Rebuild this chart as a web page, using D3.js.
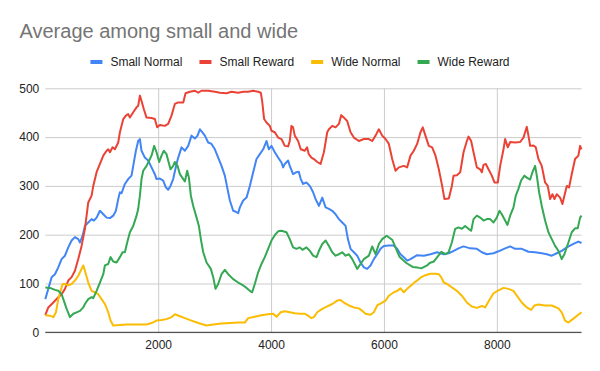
<!DOCTYPE html>
<html>
<head>
<meta charset="utf-8">
<script src="https://cdn.jsdelivr.net/npm/d3@7"></script>
<style>
  body { margin: 0; background: #fff; }
  text { font-family: Arial, "Liberation Sans", sans-serif; }
</style>
</head>
<body>
<div id="chart"></div>
<script>
// series names + colours
var seriesNames = ["Small Normal", "Small Reward", "Wide Normal", "Wide Reward"];
var seriesColors = ["#4285F4", "#EA4335", "#FBBC04", "#34A853"];

var yTicks = [0, 100, 200, 300, 400, 500];
var xTicks = [2000, 4000, 6000, 8000];

// values: [step, average]
var smallNormal = [
  [0,68],[53,89],[112,113],[171,119],[230,133],[289,150],[348,157],[407,174],[466,188],[525,195],
  [584,191],[614,184],[661,198],[702,218],[761,225],[820,232],[861,229],[909,235],[938,242],[968,249],
  [1027,242],[1086,235],[1145,234],[1204,239],[1251,249],[1292,273],[1322,287],[1351,285],[1410,304],
  [1469,314],[1528,321],[1558,341],[1605,372],[1646,392],[1676,396],[1705,372],[1764,358],[1823,352],
  [1882,338],[1941,324],[1971,314],[2030,315],[2089,311],[2136,297],[2177,292],[2218,300],[2266,314],
  [2296,330],[2325,345],[2355,358],[2414,379],[2473,372],[2532,382],[2591,403],[2650,397],[2697,403],
  [2739,416],[2780,410],[2827,403],[2886,389],[2945,386],[3004,375],[3063,358],[3122,341],[3181,321],
  [3228,294],[3270,270],[3329,249],[3376,247],[3417,244],[3447,256],[3506,270],[3565,276],[3624,300],
  [3683,328],[3742,355],[3801,365],[3860,375],[3919,392],[3960,375],[4007,382],[4066,369],[4125,358],
  [4184,348],[4214,338],[4243,345],[4302,352],[4331,341],[4390,324],[4450,328],[4491,329],[4526,314],
  [4568,304],[4627,307],[4686,300],[4745,287],[4789,273],[4848,259],[4907,276],[4966,256],[5025,253],
  [5084,249],[5143,242],[5202,232],[5261,225],[5320,218],[5361,191],[5408,171],[5467,164],[5526,157],
  [5585,143],[5644,133],[5703,130],[5762,137],[5821,150],[5880,160],[5939,171],[5998,177],[6087,178],
  [6175,178],[6234,171],[6293,160],[6352,154],[6411,147],[6470,150],[6529,154],[6588,158],[6706,157],
  [6824,160],[6942,164],[7060,160],[7144,162],[7203,165],[7321,172],[7410,176],[7528,172],[7646,171],
  [7734,164],[7823,160],[7941,162],[8029,166],[8147,172],[8236,176],[8324,171],[8442,171],[8560,165],
  [8678,164],[8796,162],[8885,160],[8973,157],[9062,162],[9150,167],[9239,174],[9357,181],[9445,186],
  [9500,183]
];

var smallReward = [
  [0,35],[53,51],[142,61],[230,72],[289,78],[348,89],[407,106],[466,113],[525,126],[584,150],
  [643,177],[702,212],[761,266],[820,280],[850,300],[909,328],[968,345],[1027,362],[1086,372],[1115,375],
  [1145,369],[1192,379],[1233,375],[1292,389],[1322,410],[1381,437],[1428,444],[1469,447],[1499,440],
  [1558,451],[1617,461],[1646,464],[1676,485],[1705,474],[1746,457],[1794,440],[1882,439],[1941,437],
  [1982,420],[2030,425],[2118,423],[2177,427],[2236,444],[2295,468],[2355,471],[2444,471],[2485,490],
  [2562,493],[2650,495],[2709,491],[2768,495],[2886,495],[3004,493],[3093,491],[3211,490],[3299,493],
  [3417,491],[3506,493],[3594,493],[3683,495],[3771,493],[3818,491],[3842,474],[3877,437],[3919,430],
  [3978,423],[4007,413],[4066,410],[4125,399],[4184,396],[4243,382],[4302,381],[4331,392],[4361,423],
  [4390,420],[4420,403],[4479,392],[4526,375],[4597,372],[4638,379],[4668,365],[4715,358],[4759,355],
  [4818,349],[4877,345],[4936,369],[4995,410],[5025,416],[5084,423],[5143,420],[5202,427],[5243,445],
  [5290,440],[5349,433],[5408,410],[5467,399],[5556,392],[5644,396],[5733,396],[5792,392],[5851,403],
  [5910,416],[5969,403],[6028,396],[6087,386],[6146,355],[6205,331],[6264,338],[6352,341],[6411,338],
  [6470,362],[6529,372],[6588,386],[6647,410],[6688,420],[6735,403],[6795,382],[6854,379],[6913,362],
  [6972,334],[7031,300],[7072,273],[7149,274],[7203,300],[7233,321],[7292,322],[7351,328],[7380,348],
  [7410,369],[7469,392],[7498,401],[7545,392],[7587,369],[7646,338],[7705,334],[7734,328],[7764,343],
  [7805,345],[7852,334],[7911,321],[7958,307],[8017,307],[8059,341],[8118,375],[8147,396],[8194,379],
  [8236,390],[8324,389],[8413,390],[8472,399],[8501,410],[8531,421],[8560,403],[8590,382],[8649,383],
  [8690,379],[8737,355],[8796,341],[8855,307],[8902,300],[8944,273],[8985,283],[9021,273],[9062,283],
  [9121,276],[9162,263],[9197,280],[9239,300],[9280,297],[9327,324],[9386,355],[9445,362],[9475,382],
  [9500,375]
];

var wideNormal = [
  [0,35],[83,34],[142,31],[189,41],[230,68],[271,85],[307,99],[348,99],[407,96],[466,99],
  [525,106],[584,116],[643,130],[673,137],[702,126],[761,102],[820,85],[879,82],[938,78],[997,68],
  [1056,58],[1115,41],[1156,24],[1204,14],[1322,15],[1440,16],[1558,16],[1676,16],[1794,16],[1882,19],
  [1971,24],[2059,25],[2148,27],[2236,31],[2296,37],[2385,33],[2473,29],[2591,24],[2709,19],[2857,14],
  [2975,16],[3122,18],[3270,19],[3417,20],[3535,20],[3594,29],[3712,32],[3830,35],[3948,37],[4037,38],
  [4096,32],[4172,41],[4243,43],[4331,41],[4420,39],[4509,38],[4597,38],[4656,34],[4715,29],[4759,31],
  [4818,41],[4907,48],[4995,53],[5084,58],[5172,65],[5231,66],[5290,61],[5379,55],[5467,51],[5556,49],
  [5615,44],[5674,38],[5762,36],[5821,41],[5880,55],[5969,61],[6028,65],[6087,75],[6175,82],[6234,85],
  [6293,90],[6352,82],[6411,89],[6500,98],[6559,104],[6588,106],[6647,112],[6735,117],[6824,120],
  [6913,120],[6972,119],[7013,113],[7060,102],[7119,99],[7203,92],[7292,85],[7380,75],[7469,61],
  [7557,53],[7646,50],[7734,54],[7793,51],[7852,63],[7941,80],[8029,86],[8118,91],[8206,89],[8295,85],
  [8354,75],[8442,61],[8531,51],[8608,46],[8666,55],[8737,57],[8855,55],[8973,55],[9091,49],[9150,41],
  [9209,24],[9268,20],[9357,28],[9445,36],[9500,41]
];

var wideReward = [
  [0,92],[83,91],[171,87],[230,85],[289,78],[319,68],[378,48],[437,31],[496,38],[555,41],
  [614,44],[673,51],[702,58],[761,68],[820,72],[850,70],[909,85],[968,102],[1027,119],[1056,137],
  [1115,140],[1156,154],[1204,145],[1263,143],[1322,154],[1369,164],[1410,164],[1451,184],[1499,205],
  [1558,218],[1617,239],[1646,253],[1676,280],[1705,314],[1735,331],[1794,341],[1853,355],[1882,362],
  [1929,382],[1971,369],[2018,349],[2059,362],[2100,372],[2148,365],[2177,352],[2218,334],[2266,341],
  [2295,349],[2343,341],[2385,324],[2444,314],[2473,309],[2514,331],[2544,317],[2579,280],[2621,259],
  [2680,235],[2721,218],[2756,191],[2798,164],[2857,143],[2933,130],[2975,113],[3016,89],[3063,99],
  [3122,119],[3181,128],[3240,119],[3329,109],[3417,102],[3506,96],[3565,91],[3624,85],[3665,82],
  [3712,99],[3771,123],[3830,140],[3889,154],[3948,171],[4007,188],[4066,199],[4125,207],[4184,208],
  [4273,205],[4331,191],[4390,174],[4450,171],[4509,174],[4556,169],[4627,174],[4686,167],[4745,157],
  [4806,154],[4848,167],[4907,181],[4966,188],[5025,177],[5084,164],[5143,157],[5202,160],[5261,164],
  [5320,157],[5379,160],[5438,150],[5497,137],[5526,130],[5585,140],[5644,150],[5733,157],[5792,176],
  [5851,160],[5910,181],[5969,191],[6048,198],[6150,189],[6274,155],[6397,142],[6508,134],[6588,133],
  [6662,131],[6765,137],[6809,142],[6883,145],[6951,155],[7016,165],[7090,160],[7144,164],[7203,184],
  [7262,212],[7321,215],[7380,212],[7439,218],[7498,212],[7545,208],[7587,232],[7646,239],[7705,235],
  [7764,229],[7823,232],[7882,232],[7941,225],[7999,235],[8047,249],[8088,242],[8147,229],[8188,220],
  [8236,239],[8295,256],[8336,280],[8383,294],[8430,311],[8489,321],[8531,317],[8590,313],[8631,328],
  [8678,341],[8708,321],[8749,287],[8796,259],[8855,229],[8914,205],[8973,191],[9032,177],[9091,167],
  [9150,150],[9197,160],[9268,184],[9327,205],[9386,213],[9433,213],[9475,235],[9500,239]
];

var allSeries = [smallNormal, smallReward, wideNormal, wideReward];

var width = 600,
  height = 371,
  margin = { top: 88.3, right: 18.5, bottom: 38.7, left: 45.3 },
  innerW = width - margin.left - margin.right,
  innerH = height - margin.top - margin.bottom;

var svg = d3
  .select("#chart")
  .append("svg")
  .attr("width", width)
  .attr("height", height);

var g = svg
  .append("g")
  .attr("transform", "translate(" + margin.left + "," + margin.top + ")");

var x = d3.scaleLinear().domain([0, 9500]).range([0, innerW]);
var y = d3.scaleLinear().domain([0, 500]).range([innerH, 0]);

//horizontal gridlines + y labels
var yAxis = g
  .append("g")
  .call(
    d3
      .axisLeft(y)
      .tickValues(yTicks)
      .tickSize(-innerW)
      .tickPadding(6)
      .tickFormat(d3.format("d"))
  );
yAxis.select(".domain").remove();
yAxis.selectAll("line").attr("stroke", "#cccccc");
yAxis
  .selectAll("text")
  .attr("fill", "#222")
  .style("font-size", "12px");

//vertical gridlines + x labels
var xAxis = g
  .append("g")
  .attr("transform", "translate(0," + innerH + ")")
  .call(
    d3
      .axisBottom(x)
      .tickValues(xTicks)
      .tickSize(-innerH)
      .tickPadding(8)
      .tickFormat(d3.format("d"))
  );
xAxis.select(".domain").remove();
xAxis.selectAll("line").attr("stroke", "#cccccc");
xAxis
  .selectAll("text")
  .attr("fill", "#222")
  .style("font-size", "12px");

//zero baseline
g.append("line")
  .attr("x1", 0)
  .attr("x2", innerW)
  .attr("y1", y(0))
  .attr("y2", y(0))
  .attr("stroke", "#333")
  .attr("stroke-width", 1);

var line = d3
  .line()
  .x(function(d) {
    return x(d[0]);
  })
  .y(function(d) {
    return y(d[1]);
  });

g.selectAll(".series")
  .data(allSeries)
  .enter()
  .append("path")
  .attr("class", "series")
  .attr("fill", "none")
  .attr("stroke", function(d, i) {
    return seriesColors[i];
  })
  .attr("stroke-width", 2)
  .attr("stroke-linejoin", "round")
  .attr("d", line);

//title
svg
  .append("text")
  .attr("x", 19.5)
  .attr("y", 38)
  .attr("fill", "#757575")
  .style("font-size", "20px")
  .text("Average among small and wide");

//legend, centred on the page
var legend = svg.append("g");
var items = legend
  .selectAll(".item")
  .data(seriesNames)
  .enter()
  .append("g")
  .attr("class", "item");

items
  .append("rect")
  .attr("width", 12)
  .attr("height", 4)
  .attr("y", 60)
  .attr("fill", function(d, i) {
    return seriesColors[i];
  });

items
  .append("text")
  .attr("x", 20)
  .attr("y", 66)
  .attr("fill", "#222")
  .style("font-size", "12px")
  .text(function(d) {
    return d;
  });

var pos = 0;
items.each(function() {
  var w = 20 + d3.select(this).select("text").node().getComputedTextLength();
  d3.select(this).attr("transform", "translate(" + pos + ",0)");
  pos += w + 17;
});
pos -= 17;
legend.attr("transform", "translate(" + (width - pos) / 2 + ",0)");
</script>
</body>
</html>
